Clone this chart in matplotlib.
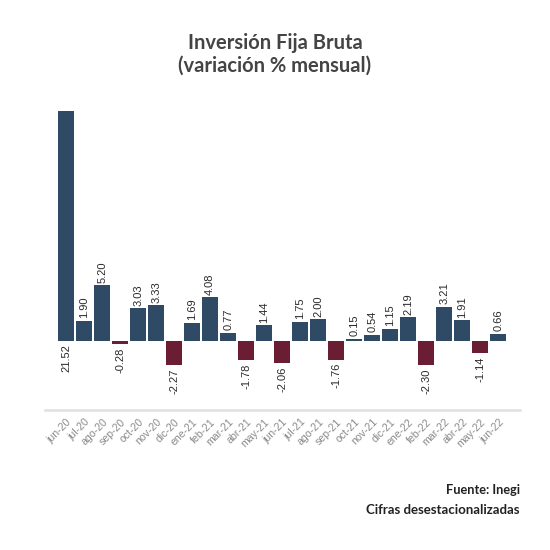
import matplotlib.pyplot as plt
import numpy as np

meses = ['jun-20', 'jul-20', 'ago-20', 'sep-20', 'oct-20', 'nov-20', 'dic-20',
         'ene-21', 'feb-21', 'mar-21', 'abr-21', 'may-21', 'jun-21', 'jul-21',
         'ago-21', 'sep-21', 'oct-21', 'nov-21', 'dic-21', 'ene-22', 'feb-22',
         'mar-22', 'abr-22', 'may-22', 'jun-22']
variacion = [21.52, 1.90, 5.20, -0.28, 3.03, 3.33, -2.27,
             1.69, 4.08, 0.77, -1.78, 1.44, -2.06, 1.75,
             2.00, -1.76, 0.15, 0.54, 1.15, 2.19, -2.30,
             3.21, 1.91, -1.14, 0.66]

azul = '#2f4a65'
vino = '#6b1d33'

fig = plt.figure(figsize=(5.5, 5.5), dpi=100)
ax = fig.add_axes([0.0818, 0.2545, 0.8637, 0.5637])

x = np.arange(len(meses))
colores = [azul if v >= 0 else vino for v in variacion]
ax.bar(x, variacion, width=0.88, color=colores)

ax.set_xlim(-1.17, 25.2)
ax.set_ylim(-6.5, 22.6)

# etiquetas de valor (la barra grande lleva su etiqueta abajo)
for i, v in enumerate(variacion):
    if v >= 0 and v < 15:
        ax.annotate('%.2f' % v, (i, v), xytext=(0, 2), textcoords='offset points',
                    rotation=90, ha='center', va='bottom', fontsize=8,
                    family='Liberation Sans', color='#2a2a2a')
    else:
        base = min(v, 0)
        ax.annotate('%.2f' % v, (i, base), xytext=(0, -2.5), textcoords='offset points',
                    rotation=90, ha='center', va='top', fontsize=8,
                    family='Liberation Sans', color='#2a2a2a')

ax.set_xticks(x)
ax.set_xticklabels(meses, rotation=45, ha='right', rotation_mode='anchor',
                   fontsize=7.6, family='Liberation Sans', color='#8a8a8a')
ax.tick_params(axis='x', length=0, pad=5)
ax.set_yticks([])
for s in ['top', 'right', 'left']:
    ax.spines[s].set_visible(False)
ax.spines['bottom'].set_color('#e0e0e0')
ax.spines['bottom'].set_linewidth(1.8)

fig.text(0.5, 0.922, 'Inversión Fija Bruta', ha='center', va='center',
         fontsize=14.5, fontweight='bold', family='Lato', color='#444444')
fig.text(0.5, 0.880, '(variación % mensual)', ha='center', va='center',
         fontsize=14.5, fontweight='bold', family='Lato', color='#444444')

fig.text(0.945, 0.109, 'Fuente: Inegi', ha='right', va='center',
         fontsize=9.2, fontweight='bold', family='Lato', color='#222222')
fig.text(0.945, 0.073, 'Cifras desestacionalizadas', ha='right', va='center',
         fontsize=9.5, fontweight='bold', family='Lato', color='#222222')

fig.savefig('out.png', dpi=100)
